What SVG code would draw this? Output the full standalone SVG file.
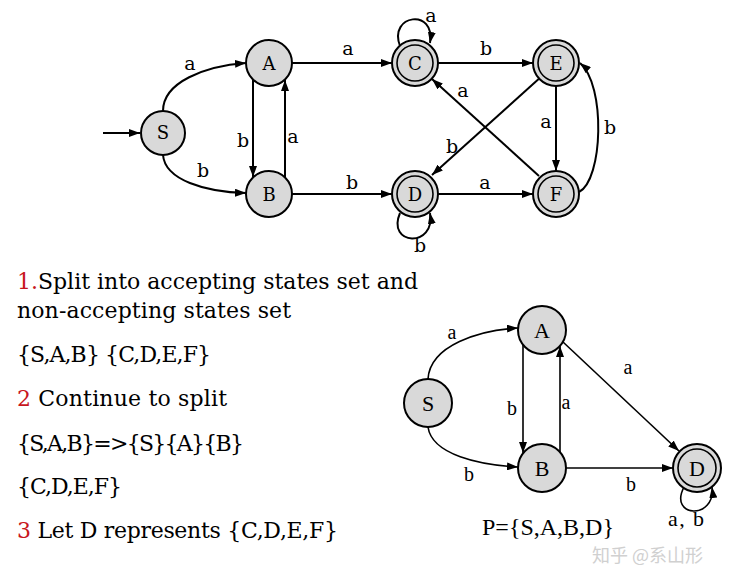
<svg xmlns="http://www.w3.org/2000/svg" width="742" height="574" viewBox="0 0 742 574">
<defs>
<marker id="arr" markerWidth="11" markerHeight="8" refX="11" refY="4" orient="auto" markerUnits="userSpaceOnUse"><path d="M0,0 L11,4 L0,8 z" fill="#000"/></marker>
<style>
.node{fill:#d9d9d9;stroke:#000;stroke-width:2}
.inner{fill:none;stroke:#000;stroke-width:1.6}
.e{fill:none;stroke:#000;stroke-width:2;marker-end:url(#arr)}
.e2{fill:none;stroke:#000;stroke-width:1.6;marker-end:url(#arr)}
.nt{font-family:"DejaVu Serif",serif;font-size:18px;text-anchor:middle}
.lt{font-family:"DejaVu Serif",serif;font-size:19px;text-anchor:middle}
.bt{font-family:"Liberation Serif",serif;font-size:22px;text-anchor:middle}
.bl{font-family:"Liberation Serif",serif;font-size:20px;text-anchor:middle}
.txt{font-family:"DejaVu Serif",serif;font-size:22px}
.red{fill:#c8161d}
.wm{font-family:"Noto Sans CJK SC",sans-serif;font-size:18px;fill:#d0d0d0}
</style>
</defs>
<rect width="742" height="574" fill="#fff"/>

<g id="connectors-top">
<path class="e" d="M103,133 L140,133"/>
<path class="e" d="M163,111 C163,82 205,66 246,63"/>
<path class="e" d="M163,155 C165,180 205,192 246,193"/>
<path class="e" d="M253,80 L253,177"/>
<path class="e" d="M285,177 L285,80"/>
<path class="e" d="M292,63 L392,63"/>
<path class="e" d="M438,63 L533,63"/>
<path class="e" d="M292,194 L392,194"/>
<path class="e" d="M438,194 L533,194"/>
<path class="e" d="M556,86 L556,171"/>
<path class="e" d="M579,192 C603,180 606,85 580,63"/>
<path class="e" d="M542,76 L432,175"/>
<path class="e" d="M539,176 L432,79"/>
<path class="e" d="M400,46 C388,14 436,8 430,43"/>
<path class="e" d="M400,213 C386,246 436,248 430,213"/>
<text class="lt" x="190" y="70">a</text>
<text class="lt" x="203" y="177">b</text>
<text class="lt" x="243" y="147">b</text>
<text class="lt" x="293" y="143">a</text>
<text class="lt" x="348" y="55">a</text>
<text class="lt" x="486" y="55">b</text>
<text class="lt" x="352" y="189">b</text>
<text class="lt" x="485" y="189">a</text>
<text class="lt" x="546" y="128">a</text>
<text class="lt" x="610" y="134">b</text>
<text class="lt" x="452" y="153">b</text>
<text class="lt" x="463" y="97">a</text>
<text class="lt" x="431" y="22">a</text>
<text class="lt" x="420" y="252">b</text>
</g>

<g id="top-S"><circle class="node" cx="163" cy="133" r="22"/><text class="nt" x="163" y="139">S</text></g>
<g id="top-A"><circle class="node" cx="269" cy="63" r="23"/><text class="nt" x="269" y="70">A</text></g>
<g id="top-B"><circle class="node" cx="269" cy="194" r="23"/><text class="nt" x="269" y="201">B</text></g>
<g id="top-C"><circle class="node" cx="415" cy="63" r="23"/><circle class="inner" cx="415" cy="63" r="18"/><text class="nt" x="415" y="70">C</text></g>
<g id="top-E"><circle class="node" cx="556" cy="63" r="23"/><circle class="inner" cx="556" cy="63" r="18"/><text class="nt" x="556" y="70">E</text></g>
<g id="top-D"><circle class="node" cx="415" cy="194" r="23"/><circle class="inner" cx="415" cy="194" r="18"/><text class="nt" x="415" y="201">D</text></g>
<g id="top-F"><circle class="node" cx="556" cy="194" r="23"/><circle class="inner" cx="556" cy="194" r="18"/><text class="nt" x="556" y="201">F</text></g>

<g id="steps">
<text class="txt" x="17" y="289" textLength="401"><tspan class="red">1.</tspan>Split into accepting states set and</text>
<text class="txt" x="17" y="318" textLength="274">non-accepting states set</text>
<text class="txt" x="17" y="362" textLength="194">{S,A,B} {C,D,E,F}</text>
<text class="txt" x="17" y="406" textLength="210"><tspan class="red">2</tspan> Continue to split</text>
<text class="txt" x="17" y="451" textLength="227">{S,A,B}=&gt;{S}{A}{B}</text>
<text class="txt" x="17" y="494" textLength="105">{C,D,E,F}</text>
<text class="txt" x="17" y="538" textLength="321"><tspan class="red">3</tspan> Let D represents {C,D,E,F}</text>
</g>

<g id="connectors-bottom">
<path class="e2" d="M428,379 C430,345 480,330 518,328"/>
<path class="e2" d="M428,427 C432,455 480,465 518,467"/>
<path class="e2" d="M523,345 L523,453"/>
<path class="e2" d="M560,452 L560,346"/>
<path class="e2" d="M563,342 L679,451"/>
<path class="e2" d="M566,468 L673,468"/>
<path class="e2" d="M684,487 C668,518 716,520 712,487"/>
<text class="bl" x="452" y="339">a</text>
<text class="bl" x="469" y="481">b</text>
<text class="bl" x="512" y="415">b</text>
<text class="bl" x="566" y="409">a</text>
<text class="bl" x="628" y="374">a</text>
<text class="bl" x="631" y="491">b</text>
<text class="bl" x="686" y="526" style="font-size:22px" textLength="36">a, b</text>
</g>

<g id="bot-S"><circle class="node" cx="428" cy="403" r="24"/><text class="bt" x="428" y="411">S</text></g>
<g id="bot-A"><circle class="node" cx="542" cy="330" r="24"/><text class="bt" x="542" y="338">A</text></g>
<g id="bot-B"><circle class="node" cx="542" cy="468" r="24"/><text class="bt" x="542" y="476">B</text></g>
<g id="bot-D"><circle class="node" cx="697" cy="468" r="24"/><circle class="inner" cx="697" cy="468" r="19"/><text class="bt" x="697" y="476">D</text></g>

<text class="bt" x="548" y="535" style="font-size:24px">P={S,A,B,D}</text>
<text class="wm" x="592" y="562">知乎 @系山形</text>
</svg>
